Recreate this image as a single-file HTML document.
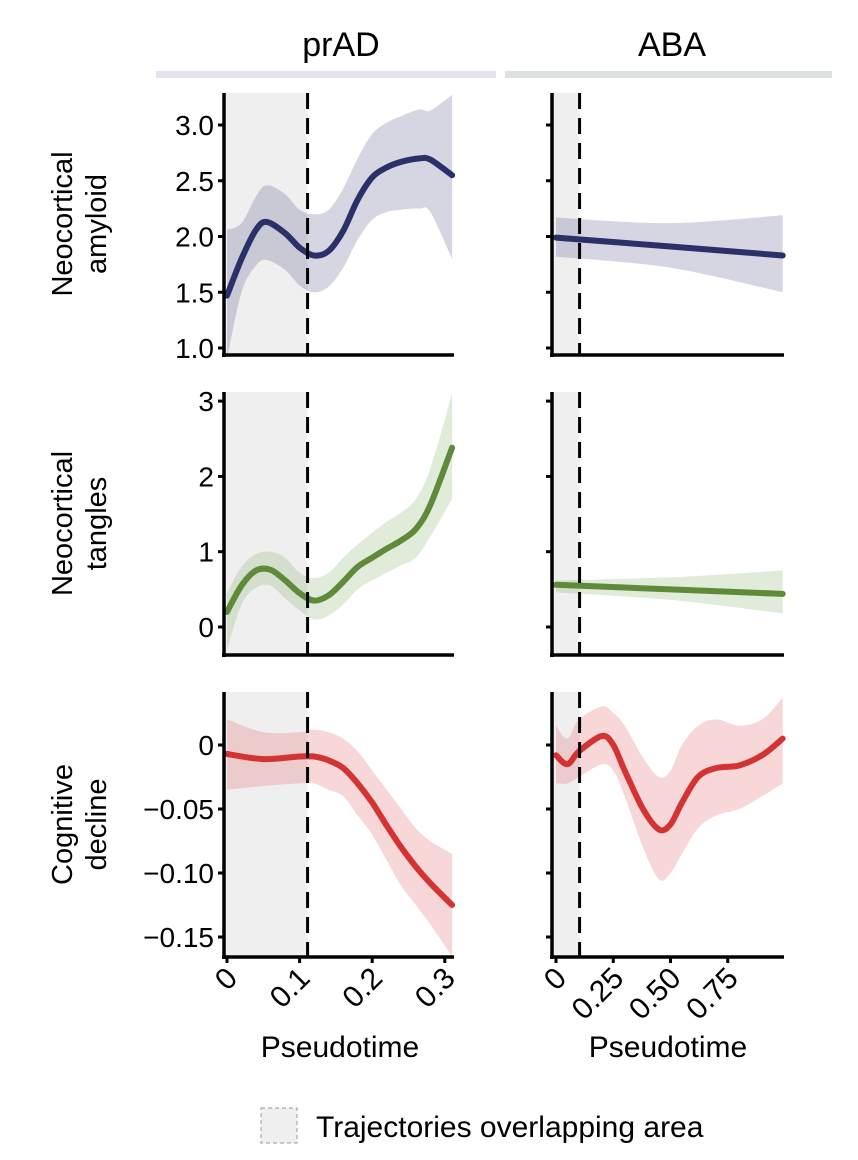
<!DOCTYPE html>
<html><head><meta charset="utf-8">
<style>
body{margin:0;background:#fff;}
svg{display:block;font-family:"Liberation Sans",Arial,sans-serif;}
</style></head>
<body>
<svg id="chart" width="858" height="1160" viewBox="0 0 858 1160" xmlns="http://www.w3.org/2000/svg">
<text x="341" y="56" font-size="34" text-anchor="middle">prAD</text>
<text x="672" y="56" font-size="34" text-anchor="middle">ABA</text>
<rect x="156" y="71" width="340" height="7" fill="#e6e1ef"/>
<rect x="505" y="71" width="327" height="7" fill="#dde2e0"/>
<g id="plots"></g>
<text x="340" y="1057" font-size="30" text-anchor="middle">Pseudotime</text>
<text x="668" y="1057" font-size="30" text-anchor="middle">Pseudotime</text>
<rect x="261" y="1108" width="36" height="35" fill="#efefef" stroke="#999" stroke-dasharray="4,3"/>
<text x="316" y="1137" font-size="30">Trajectories overlapping area</text>
</svg>
<script>
// ---- data ----
const ampX = [0,0.02,0.04,0.055,0.08,0.1,0.12,0.14,0.16,0.18,0.2,0.22,0.24,0.265,0.28,0.31];
const ampY = [1.47,1.8,2.06,2.13,2.03,1.9,1.83,1.87,2.05,2.33,2.53,2.62,2.67,2.7,2.69,2.55];
const ampHi = [2.06,2.12,2.36,2.46,2.38,2.24,2.2,2.24,2.43,2.7,2.92,3.02,3.08,3.14,3.13,3.27];
const ampLo = [0.9,1.5,1.74,1.79,1.7,1.56,1.5,1.55,1.72,1.97,2.15,2.22,2.24,2.25,2.22,1.8];
const abaAmpX = [0,0.5,0.99];
const abaAmpY = [1.99,1.91,1.83];
const abaAmpHi = [2.17,2.12,2.19];
const abaAmpLo = [1.82,1.72,1.5];
const tanX = [0,0.02,0.04,0.06,0.08,0.1,0.12,0.14,0.16,0.18,0.2,0.22,0.24,0.26,0.28,0.31];
const tanY = [0.2,0.55,0.75,0.76,0.62,0.45,0.35,0.42,0.6,0.8,0.92,1.04,1.15,1.3,1.62,2.38];
const tanHi = [0.45,0.8,0.97,1.0,0.92,0.72,0.65,0.72,0.92,1.1,1.25,1.4,1.52,1.7,2.1,3.1];
const tanLo = [-0.3,0.3,0.52,0.55,0.38,0.22,0.1,0.15,0.3,0.5,0.62,0.72,0.82,0.92,1.2,1.7];
const abaTanX = [0,0.5,0.99];
const abaTanY = [0.56,0.5,0.44];
const abaTanHi = [0.62,0.66,0.75];
const abaTanLo = [0.46,0.36,0.18];
const cogX = [0,0.05,0.1,0.12,0.14,0.16,0.18,0.2,0.22,0.24,0.26,0.28,0.31];
const cogY = [-0.007,-0.011,-0.009,-0.009,-0.012,-0.018,-0.03,-0.045,-0.063,-0.08,-0.095,-0.108,-0.125];
const cogHi = [0.02,0.01,0.01,0.012,0.01,0.005,-0.005,-0.02,-0.035,-0.05,-0.065,-0.075,-0.085];
const cogLo = [-0.035,-0.032,-0.03,-0.03,-0.035,-0.04,-0.055,-0.07,-0.09,-0.11,-0.125,-0.14,-0.165];
const abaCogX = [0,0.05,0.1,0.2,0.25,0.3,0.38,0.45,0.5,0.55,0.62,0.7,0.8,0.9,0.99];
const abaCogY = [-0.008,-0.015,-0.005,0.007,0.0,-0.02,-0.05,-0.066,-0.062,-0.045,-0.025,-0.018,-0.016,-0.008,0.005];
const abaCogHi = [0.015,0.005,0.02,0.03,0.025,0.015,-0.01,-0.025,-0.02,0.0,0.015,0.02,0.015,0.02,0.037];
const abaCogLo = [-0.03,-0.03,-0.025,-0.015,-0.02,-0.04,-0.08,-0.105,-0.1,-0.085,-0.065,-0.055,-0.05,-0.04,-0.03];
const pradXTicks = [0,0.1,0.2,0.3];
const pradXLabels = ["0","0.1","0.2","0.3"];
const abaXTicks = [0,0.25,0.5,0.75];
const abaXLabels = ["0","0.25","0.50","0.75"];
const ampTicks = [1.0,1.5,2.0,2.5,3.0];
const ampLabels = ["1.0","1.5","2.0","2.5","3.0"];
const tanTicks = [0,1,2,3];
const tanLabels = ["0","1","2","3"];
const cogTicks = [0,-0.05,-0.10,-0.15];
const cogLabels = ["0","\u22120.05","\u22120.10","\u22120.15"];
const pradOverlap = 0.111;
const abaOverlap = 0.103;

const NS = "http://www.w3.org/2000/svg";
const root = document.getElementById('plots');
function mk(tag, attrs, parent){const e=document.createElementNS(NS,tag);for(const k in attrs)e.setAttribute(k,attrs[k]);(parent||root).appendChild(e);return e;}
function smooth(pts, start){
  let d = (start?'M':'L')+pts[0][0].toFixed(1)+','+pts[0][1].toFixed(1);
  for(let i=0;i<pts.length-1;i++){
    const p0=pts[Math.max(0,i-1)],p1=pts[i],p2=pts[i+1],p3=pts[Math.min(pts.length-1,i+2)];
    const c1=[p1[0]+(p2[0]-p0[0])/6,p1[1]+(p2[1]-p0[1])/6];
    const c2=[p2[0]-(p3[0]-p1[0])/6,p2[1]-(p3[1]-p1[1])/6];
    d+='C'+c1.map(v=>v.toFixed(1)).join(',')+' '+c2.map(v=>v.toFixed(1)).join(',')+' '+p2.map(v=>v.toFixed(1)).join(',');
  }
  return d;
}

const cols = [
 {x0:224,x1:454,xScale:v=>227+v*726,ticks:pradXTicks,labels:pradXLabels,ov:pradOverlap,name:'prad'},
 {x0:552,x1:784,xScale:v=>556+v*229,ticks:abaXTicks,labels:abaXLabels,ov:abaOverlap,name:'aba'}
];
const rows = [
 {top:93,bot:355,yScale:v=>348-(v-1)*111.5,ticks:ampTicks,labels:ampLabels,title:['Neocortical','amyloid'],color:'#2b3168',band:'#2b3168',op:0.2,
  series:[[ampX,ampY,ampHi,ampLo],[abaAmpX,abaAmpY,abaAmpHi,abaAmpLo]],name:'amyloid'},
 {top:392,bot:655,yScale:v=>627-v*75.3,ticks:tanTicks,labels:tanLabels,title:['Neocortical','tangles'],color:'#5f8a3a',band:'#6a9a40',op:0.2,
  series:[[tanX,tanY,tanHi,tanLo],[abaTanX,abaTanY,abaTanHi,abaTanLo]],name:'tangles'},
 {top:692,bot:957,yScale:v=>745-v*1280,ticks:cogTicks,labels:cogLabels,title:['Cognitive','decline'],color:'#d43333',band:'#e06060',op:0.25,
  series:[[cogX,cogY,cogHi,cogLo],[abaCogX,abaCogY,abaCogHi,abaCogLo]],name:'cognitive'}
];

rows.forEach((r,ri)=>{
  const t = mk('text',{x:0,y:0,'font-size':29,'text-anchor':'middle',transform:`translate(78,${(r.top+r.bot)/2}) rotate(-90)`});
  
  
  r.title.forEach((s,i)=>{const ts=mk('tspan',{x:0,dy:i===0?-6:34},t);ts.textContent=s;});
  cols.forEach((c,ci)=>{
    const g = mk('g',{});
    
    
    const sh = mk('rect',{x:c.x0,y:r.top,width:c.xScale(c.ov)-c.x0,height:r.bot-r.top,fill:'#efefef'},g);
    
    
    const [xs,ys,hi,lo] = r.series[ci];
    const up = xs.map((x,i)=>[c.xScale(x),r.yScale(hi[i])]);
    const dn = xs.map((x,i)=>[c.xScale(x),r.yScale(lo[i])]).reverse();
    const band = mk('path',{d:smooth(up,true)+smooth(dn,false)+'Z',fill:r.band,'fill-opacity':r.op},g);
    
    
    const mid = xs.map((x,i)=>[c.xScale(x),r.yScale(ys[i])]);
    const line = mk('path',{d:smooth(mid,true),fill:'none',stroke:r.color,'stroke-width':6,'stroke-linejoin':'round','stroke-linecap':'round'},g);
    
    
    const dl = mk('line',{x1:c.xScale(c.ov),x2:c.xScale(c.ov),y1:r.top,y2:r.bot,stroke:'#000','stroke-width':3,'stroke-dasharray':'16,9'},g);
    
    
    mk('line',{x1:c.x0,x2:c.x0,y1:r.top,y2:r.bot+2,stroke:'#000','stroke-width':3.5},g);
    mk('line',{x1:c.x0-2,x2:c.x1,y1:r.bot,y2:r.bot,stroke:'#000','stroke-width':3.5},g);
    r.ticks.forEach((v,i)=>{
      const y=r.yScale(v);
      mk('line',{x1:c.x0-6,x2:c.x0,y1:y,y2:y,stroke:'#000','stroke-width':3},g);
      if(ci===0){
        const tl = mk('text',{x:c.x0-10,y:y+10,'font-size':28,'text-anchor':'end'},g);
        
        
        tl.textContent = r.labels[i];
      }
    });
    if(ri===2){
      c.ticks.forEach((v,i)=>{
        const x=c.xScale(v);
        mk('line',{x1:x,x2:x,y1:r.bot,y2:r.bot+6,stroke:'#000','stroke-width':3},g);
        const tl = mk('text',{x:0,y:0,'font-size':30,'text-anchor':'end',transform:`translate(${x+12},${r.bot+23}) rotate(-45)`},g);
        
        
        tl.textContent = c.labels[i];
      });
    }
  });
});
</script>
</body></html>
